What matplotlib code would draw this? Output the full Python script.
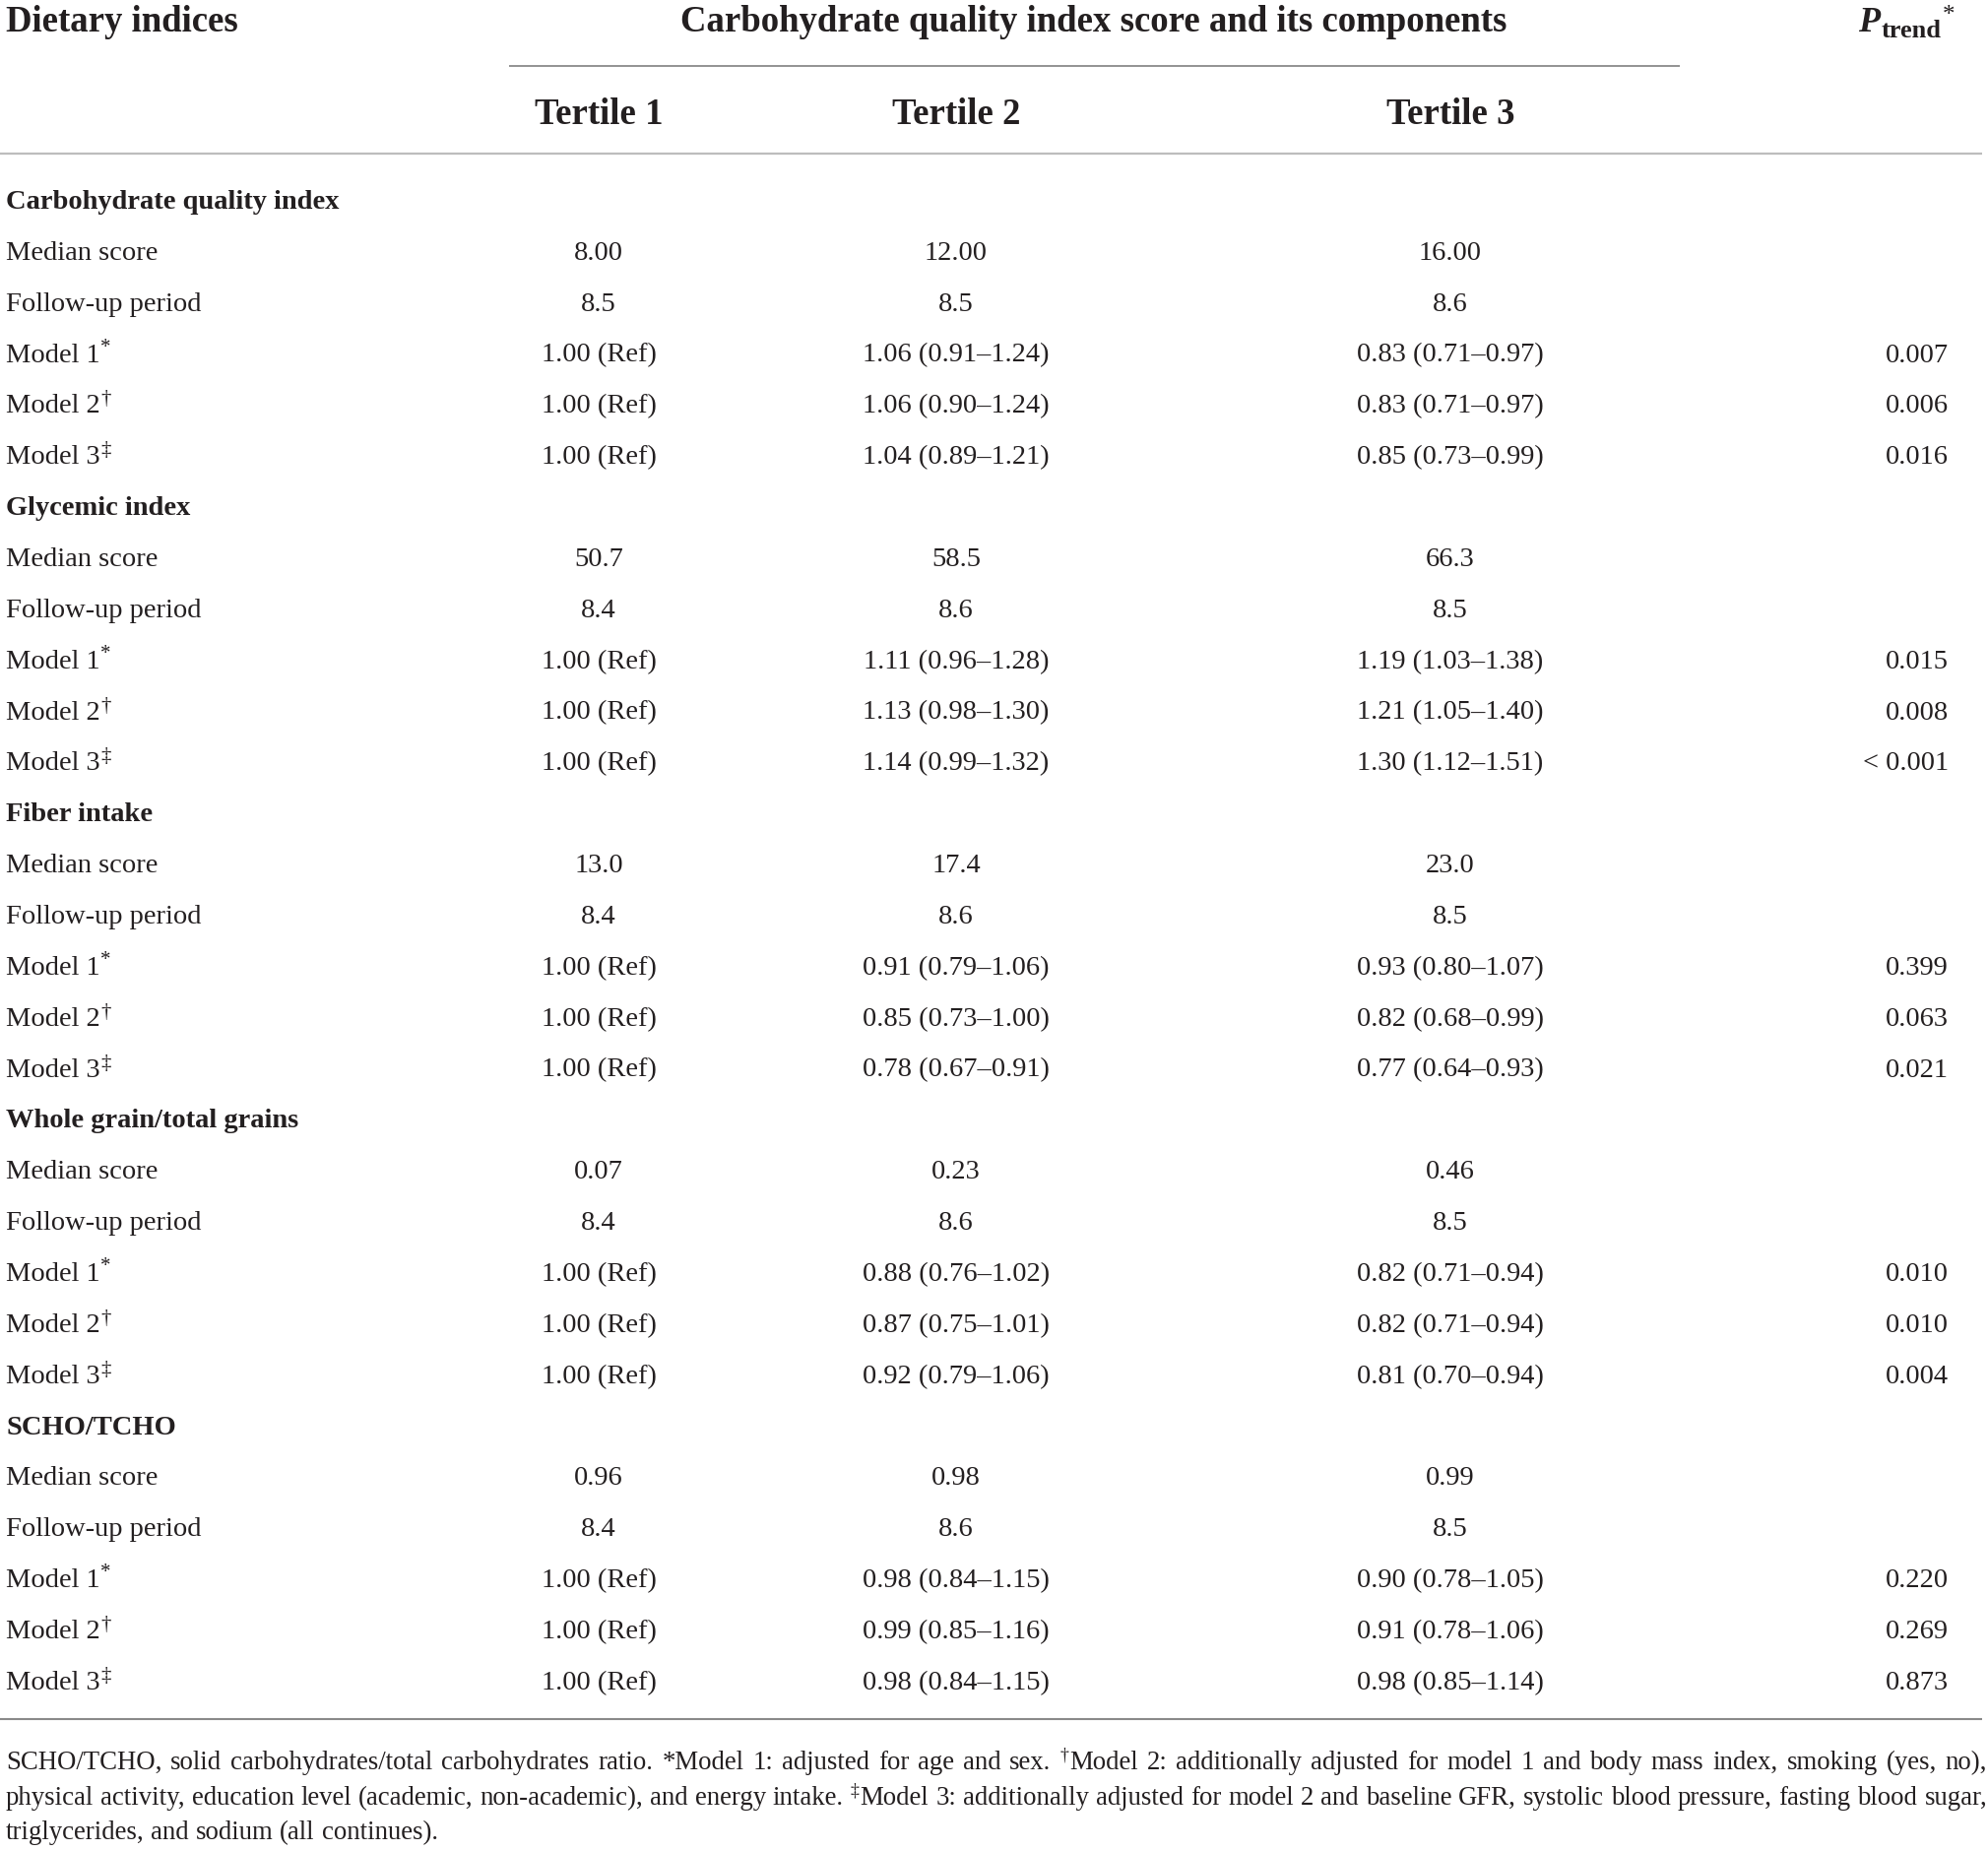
"""
Carbohydrate quality index tertiles - hazard ratio table
Redrawn as a matplotlib figure
"""

import matplotlib
matplotlib.use('Agg')
import matplotlib.pyplot as plt

# ---- table data ----
group_names = ['Carbohydrate quality index', 'Glycemic index', 'Fiber intake',
               'Whole grain/total grains', 'SCHO/TCHO']
tertile_labels = ['Tertile 1', 'Tertile 2', 'Tertile 3']

median_t1 = ['8.00', '50.7', '13.0', '0.07', '0.96']
median_t2 = ['12.00', '58.5', '17.4', '0.23', '0.98']
median_t3 = ['16.00', '66.3', '23.0', '0.46', '0.99']

followup_t1 = ['8.5', '8.4', '8.4', '8.4', '8.4']
followup_t2 = ['8.5', '8.6', '8.6', '8.6', '8.6']
followup_t3 = ['8.6', '8.5', '8.5', '8.5', '8.5']

ref_t1 = '1.00 (Ref)'
hr_t2 = [
    ['1.06 (0.91–1.24)', '1.06 (0.90–1.24)', '1.04 (0.89–1.21)'],
    ['1.11 (0.96–1.28)', '1.13 (0.98–1.30)', '1.14 (0.99–1.32)'],
    ['0.91 (0.79–1.06)', '0.85 (0.73–1.00)', '0.78 (0.67–0.91)'],
    ['0.88 (0.76–1.02)', '0.87 (0.75–1.01)', '0.92 (0.79–1.06)'],
    ['0.98 (0.84–1.15)', '0.99 (0.85–1.16)', '0.98 (0.84–1.15)'],
]
hr_t3 = [
    ['0.83 (0.71–0.97)', '0.83 (0.71–0.97)', '0.85 (0.73–0.99)'],
    ['1.19 (1.03–1.38)', '1.21 (1.05–1.40)', '1.30 (1.12–1.51)'],
    ['0.93 (0.80–1.07)', '0.82 (0.68–0.99)', '0.77 (0.64–0.93)'],
    ['0.82 (0.71–0.94)', '0.82 (0.71–0.94)', '0.81 (0.70–0.94)'],
    ['0.90 (0.78–1.05)', '0.91 (0.78–1.06)', '0.98 (0.85–1.14)'],
]
p_trend = [
    ['0.007', '0.006', '0.016'],
    ['0.015', '0.008', '< 0.001'],
    ['0.399', '0.063', '0.021'],
    ['0.010', '0.010', '0.004'],
    ['0.220', '0.269', '0.873'],
]
model_labels = ['Model 1', 'Model 2', 'Model 3']
model_marks = ['*', '†', '‡']

footnote_lines = [
    ['SCHO/TCHO, solid carbohydrates/total carbohydrates ratio. *Model 1: adjusted for age and sex.',
     ('†', 'Model 2: additionally adjusted for model 1 and body mass index, smoking (yes, no),')],
    ['physical activity, education level (academic, non-academic), and energy intake.',
     ('‡', 'Model 3: additionally adjusted for model 2 and baseline GFR, systolic blood pressure, fasting blood sugar,')],
    ['triglycerides, and sodium (all continues).'],
]

# ---- layout (pixel units, y grows downward) ----
W, H = 2019, 1881
FONT = 'Liberation Serif'
INK = '#231f20'
BODY = 20.5
HEAD = 26.5
NOTE = 19.3

col_x = [608, 971, 1473]
p_right = 1979
row0 = 212
row_step = 51.86

fig = plt.figure(figsize=(W / 100, H / 100), dpi=100)
ax = fig.add_axes([0, 0, 1, 1])
ax.set_xlim(0, W)
ax.set_ylim(H, 0)
ax.axis('off')
renderer = fig.canvas.get_renderer()
inv = ax.transData.inverted()


def txt(x, y, s, size=BODY, weight='normal', style='normal', ha='left'):
    return ax.text(x, y, s, fontsize=size, fontweight=weight, fontstyle=style,
                   ha=ha, va='baseline', color=INK, family=FONT)


def right_edge(t):
    bb = t.get_window_extent(renderer)
    return inv.transform((bb.x1, bb.y0))[0]


def width_of(s, size, weight='normal'):
    t = txt(0, -100, s, size=size, weight=weight)
    bb = t.get_window_extent(renderer)
    t.remove()
    x0 = inv.transform((bb.x0, bb.y0))[0]
    x1 = inv.transform((bb.x1, bb.y0))[0]
    return x1 - x0


# header
txt(6, 32, 'Dietary indices', size=HEAD, weight='bold')
txt(1111, 32, 'Carbohydrate quality index score and its components',
    size=HEAD, weight='bold', ha='center')
# P trend with subscript and superscript
sup_w = width_of('*', 18, 'bold')
trend_w = width_of('trend', 19, 'bold')
p_w = width_of('P', 26, 'bold')
px = 1985 - sup_w - trend_w - p_w - 2
tp = ax.text(px, 32, 'P', fontsize=26, fontweight='bold', fontstyle='italic',
             va='baseline', color=INK, family=FONT)
tt = txt(right_edge(tp) + 1, 38, 'trend', size=19, weight='bold')
txt(right_edge(tt) + 1, 22, '*', size=18)

for cx, lab in zip(col_x, tertile_labels):
    txt(cx, 126, lab, size=HEAD, weight='bold', ha='center')

ax.plot([517, 1706], [68, 68], color='#8a8a8a', lw=1.3, solid_capstyle='butt')
ax.plot([0, 2013], [157, 157], color='#bdbdbd', lw=1.6, solid_capstyle='butt')

# body rows
r = 0
for g, name in enumerate(group_names):
    y = row0 + r * row_step
    txt(6, y, name, weight='bold')
    r += 1

    y = row0 + r * row_step
    txt(6, y, 'Median score')
    for cx, v in zip(col_x, [median_t1[g], median_t2[g], median_t3[g]]):
        txt(cx, y, v, ha='center')
    r += 1

    y = row0 + r * row_step
    txt(6, y, 'Follow-up period')
    for cx, v in zip(col_x, [followup_t1[g], followup_t2[g], followup_t3[g]]):
        txt(cx, y, v, ha='center')
    r += 1

    for m in range(3):
        y = row0 + r * row_step
        t = txt(6, y, model_labels[m])
        mark_y = y - 10 if model_marks[m] == '*' else y - 9
        txt(right_edge(t) + 0.5, mark_y, model_marks[m], size=15)
        txt(col_x[0], y, ref_t1, ha='center')
        txt(col_x[1], y, hr_t2[g][m], ha='center')
        txt(col_x[2], y, hr_t3[g][m], ha='center')
        txt(p_right, y, p_trend[g][m], ha='right')
        r += 1

ax.plot([0, 2013], [1747, 1747], color='#8a8a8a', lw=1.5, solid_capstyle='butt')

# footnote, justified except for the last line
note_base = [1797, 1833, 1868]
note_w = 2012
for li, parts in enumerate(footnote_lines):
    words = []
    for p in parts:
        if isinstance(p, tuple):
            mark, rest = p
            ws = rest.split(' ')
            words.append((mark, ws[0]))
            words.extend((None, w) for w in ws[1:])
        else:
            words.extend((None, w) for w in p.split(' '))
    widths = []
    for mark, w in words:
        ww = width_of(w, NOTE)
        if mark:
            ww += width_of(mark, 13) + 1
        widths.append(ww)
    space = width_of('a a', NOTE) - 2 * width_of('a', NOTE)
    if li < len(footnote_lines) - 1:
        gap = (note_w - sum(widths)) / (len(words) - 1)
    else:
        gap = space
    x = 6
    y = note_base[li]
    for (mark, w), ww in zip(words, widths):
        xx = x
        if mark:
            tm = txt(xx, y - 10, mark, size=13)
            xx = right_edge(tm) + 1
        txt(xx, y, w, size=NOTE)
        x += ww + gap

fig.savefig('out.png', dpi=100, facecolor='white')
